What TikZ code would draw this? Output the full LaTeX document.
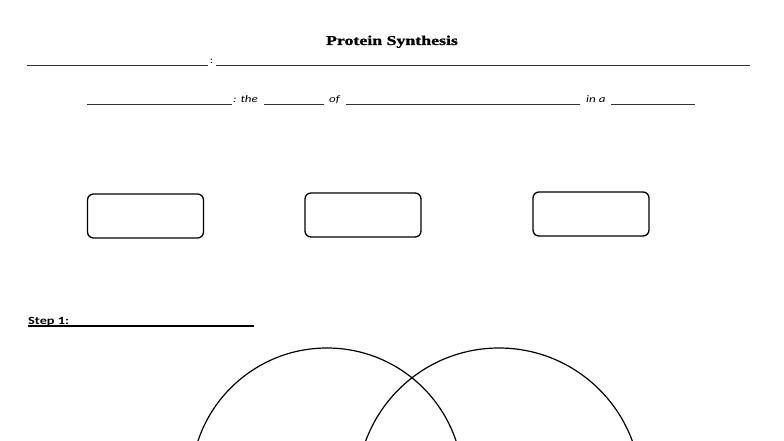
\documentclass[tikz,border=0pt]{standalone}
\usepackage{fontspec}
\setmainfont{Liberation Serif}
\newfontfamily\carl[FakeStretch=1.3]{Carlito}
\newfontfamily\titlefont[FakeStretch=1.32,FakeBold=1.2]{Liberation Serif}
\tikzset{
  blank/.style={line width=0.9pt, draw=black!80},
  answerbox/.style={draw, line width=1.3pt, rounded corners=6pt, minimum width=116pt, minimum height=44pt, inner sep=0pt},
  ring/.style={draw, line width=1.2pt, circle, inner sep=0pt},
  fill text/.style={font=\carl\itshape\fontsize{10}{12}\selectfont, inner sep=0pt, anchor=base west},
}
\begin{document}
\begin{tikzpicture}[x=1pt,y=-1pt]
\useasboundingbox (0,0) rectangle (784,441);
\clip (0,0) rectangle (784,441);
% title
\node[font=\titlefont\bfseries\fontsize{13.5}{15}\selectfont, anchor=base, inner sep=0pt] (title) at (392,45) {Protein Synthesis};
% line 1
\draw[blank, line width=1.1pt] (27,65.5) -- (208,65.5);
\node[anchor=base, inner sep=0pt, font=\carl\fontsize{10}{12}\selectfont] (colon1) at (211.5,64) {:};
\draw[blank, line width=1.1pt] (216,65.5) -- (750,65.5);
% line 2
\draw[blank] (87,104) -- (232,104);
\node[fill text] (the) at (233,103) {: the};
\draw[blank] (264,104) -- (324,104);
\node[fill text] (of) at (329,103) {of};
\draw[blank] (346,104) -- (580,104);
\node[fill text] (ina) at (586,103) {in a};
\draw[blank] (611,104) -- (695,104);
% boxes
\node[answerbox] (box1) at (145.5,216) {};
\node[answerbox] (box2) at (363,215) {};
\node[answerbox] (box3) at (591,214) {};
% step 1
\node[anchor=base west, inner sep=0pt, font=\carl\bfseries\fontsize{11}{13}\selectfont] (step) at (28,324) {Step 1:};
\draw[line width=1.1pt] (28,326) -- (254,326);
% circles
\node[ring, minimum size=272pt] (left) at (327,484) {};
\node[ring, minimum size=284pt] (right) at (499,490) {};
\end{tikzpicture}
\end{document}
